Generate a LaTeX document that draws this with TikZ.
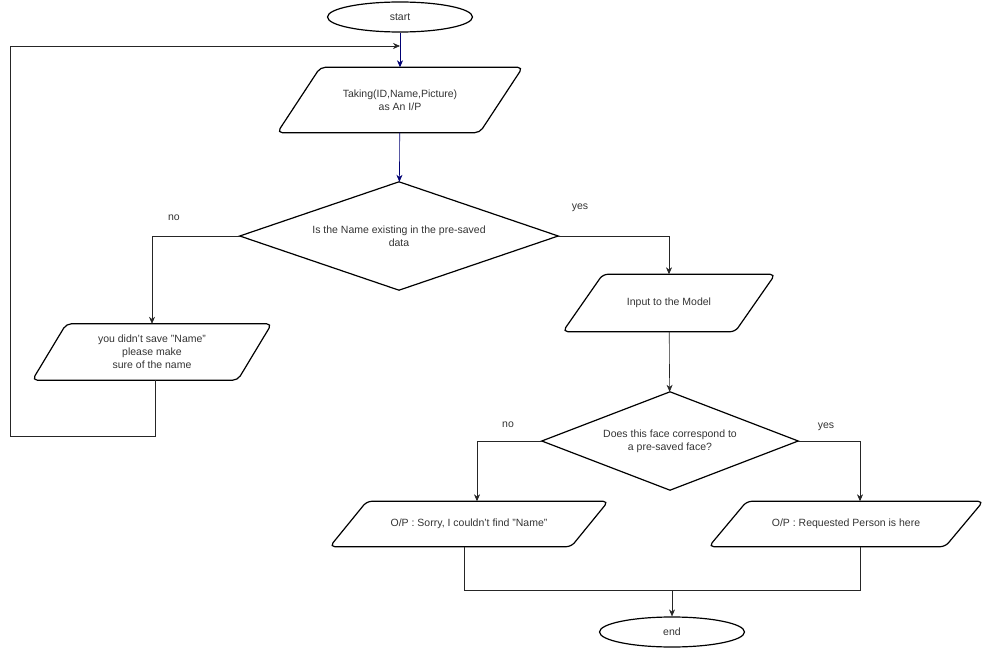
\documentclass[tikz,border=0pt]{standalone}
\usepackage{fontspec}
\setmainfont{Liberation Sans}
\usetikzlibrary{shapes.geometric,arrows.meta}
\begin{document}
\begin{tikzpicture}[x=1pt,y=-1pt,
  every node/.style={font=\fontsize{10.5}{13}\selectfont,text=black!80,align=center,inner sep=0pt},
  term/.style={ellipse,draw,line width=1.2pt,minimum width=145pt,minimum height=30pt},
  pbox/.style={rectangle,minimum width=#1},
  shp/.style={line width=1.2pt,rounded corners=5pt},
  con/.style={line width=0.6pt,draw=black!85,-{Stealth[length=7pt,width=6pt]}},
  bcon/.style={line width=0.6pt,draw=blue!45!black,-{Stealth[length=7pt,width=6pt]}},
  ln/.style={line width=0.6pt,draw=black!85}]
\useasboundingbox (0,0) rectangle (986,650);
\newcommand\para[2]{\draw[shp] ([xshift=#2]#1.north west) -- (#1.north east) -- ([xshift=-#2]#1.south east) -- (#1.south west) -- cycle;}
\newcommand\dmd[1]{\draw[line width=1.2pt] (#1.west) -- (#1.north) -- (#1.east) -- (#1.south) -- cycle;}
\node[term] (start) at (400,17) {start};
\node[pbox=245pt,minimum height=65pt] (take) at (400,100) {Taking(ID,Name,Picture)\\as An I/P};
\para{take}{43pt}
\node[pbox=318pt,minimum height=108pt] (d1) at (399,236) {Is the Name existing in the pre-saved\\data};
\dmd{d1}
\node[pbox=212pt,minimum height=57pt] (inp) at (669,303) {Input to the Model};
\para{inp}{40pt}
\node[pbox=239pt,minimum height=56pt] (warn) at (152,352) {you didn't save "Name"\\please make\\sure of the name};
\para{warn}{34pt}
\node[pbox=256pt,minimum height=98pt] (d2) at (670,441) {Does this face correspond to\\a pre-saved face?};
\dmd{d2}
\node[pbox=278pt,minimum height=45pt] (sorry) at (469,524) {O/P : Sorry, I couldn't find "Name"};
\para{sorry}{37pt}
\node[pbox=274pt,minimum height=45pt] (req) at (846,524) {O/P : Requested Person is here};
\para{req}{38pt}
\node[term] (end) at (672,632) {end};
\node (l1) at (174,218) {no};
\node (l2) at (580,208) {yes};
\node (l3) at (508,425) {no};
\node (l4) at (826,427) {yes};
\coordinate (fb) at (400,46);
\coordinate (mrg) at (672,590);
\draw[bcon] (start) -- (take);
\draw[bcon] (take) -- (d1);
\draw[con] ([xshift=3pt]warn.south) |- (10,436) |- (fb);
\draw[con] (d1.west) -| (warn.north);
\draw[con] (d1.east) -| (inp.north);
\draw[con] (inp) -- (d2);
\draw[con] (d2.west) -| ([xshift=8pt]sorry.north);
\draw[con] (d2.east) -| ([xshift=14pt]req.north);
\draw[ln] ([xshift=-5pt]sorry.south) |- (mrg);
\draw[ln] ([xshift=14pt]req.south) |- (mrg);
\draw[con] (mrg) -- (end);
\end{tikzpicture}
\end{document}
